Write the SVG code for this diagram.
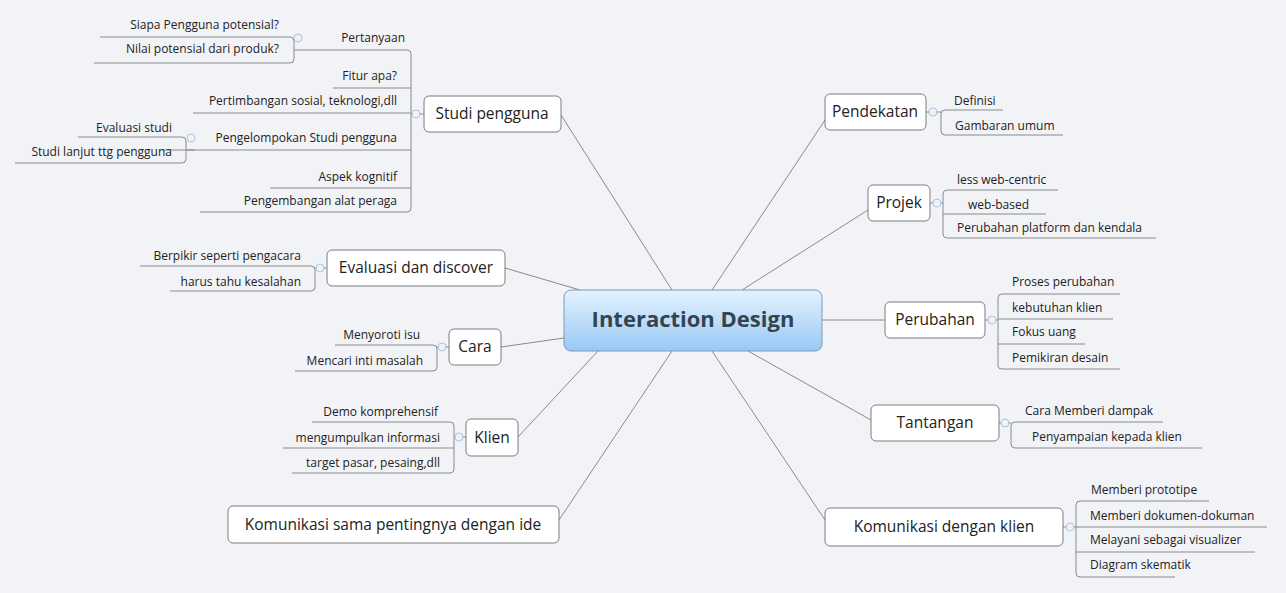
<svg xmlns="http://www.w3.org/2000/svg" width="1286" height="593" viewBox="0 0 1286 593">
<defs>
<linearGradient id="cg" x1="0" y1="0" x2="0" y2="1"><stop offset="0" stop-color="#e4f2fd"/><stop offset="1" stop-color="#99c9f5"/></linearGradient>
<style>
.n{fill:#fff;stroke:#7d7d7d;stroke-width:1}
.nt{font-family:"Open Sans","Liberation Sans",sans-serif;font-size:15.5px;fill:#222}
.lt{font-family:"Open Sans","Liberation Sans",sans-serif;font-size:12px;fill:#222}
.c{stroke:#8a8a8a;stroke-width:1;fill:none}
.u{stroke:#8a8a8a;stroke-width:1;fill:none}
.k{fill:#eef3fa;stroke:#a9c4e0;stroke-width:1}
</style>
</defs>
<rect width="1286" height="593" fill="#f2f3f7"/>
<g id="connectors">
<path class="c" d="M672 290L561 115M580 290L505 268M564 338L501 347M598 351L518 437M672 351L559 520M712 290L825 120M742 290L868 210M822 320H885M748 351L871 420M712 351L825 520"/>
<!-- Studi pengguna -->
<path class="u" d="M424 114H411M411 54V208M407 50Q411 50 411 54M407 212Q411 212 411 208M300 50H407M333 88H411M193 113H411M163 150H411M270 188H411M200 212H407"/>
<path class="u" d="M300 50H294M294 41V59M100 37H290Q294 37 294 41M94 63H290Q294 63 294 59"/>
<path class="u" d="M186 141V159M78 137H182Q186 137 186 141M15 163H182Q186 163 186 159M186 150H195"/>
<!-- Evaluasi -->
<path class="u" d="M327 268H315M315 270V287M140 266H311Q315 266 315 270M170 291H311Q315 291 315 287"/>
<path class="u" d="M449 347H437M437 349V367M335 345H433Q437 345 437 349M295 371H433Q437 371 437 367"/>
<path class="u" d="M466 437H454M454 426V469M312 422H450Q454 422 454 426M283 448H454M292 473H450Q454 473 454 469"/>
<!-- right -->
<path class="u" d="M926 112H941M941 114V131M1003 110H945Q941 110 941 114M1063 135H945Q941 135 941 131"/>
<path class="u" d="M930 203H943M943 194V234M1058 190H947Q943 190 943 194M1046 214H943M1156 238H947Q943 238 943 234"/>
<path class="u" d="M985 320H998M998 298V366M1120 294H1002Q998 294 998 298M1113 319H998M1085 344H998M1120 369H1002Q998 369 998 366"/>
<path class="u" d="M999 423H1011M1011 426V444M1163 422H1015Q1011 422 1011 426M1202 448H1015Q1011 448 1011 444"/>
<path class="u" d="M1063 527H1076M1076 505V573M1209 501H1080Q1076 501 1076 505M1267 527H1076M1255 552H1076M1175 577H1080Q1076 577 1076 573"/>
<g>
<circle class="k" cx="416" cy="114" r="4"/><circle class="k" cx="298" cy="38" r="4"/><circle class="k" cx="191" cy="138" r="4"/>
<circle class="k" cx="320" cy="268" r="4"/><circle class="k" cx="442" cy="347" r="4"/><circle class="k" cx="459" cy="437" r="4"/>
<circle class="k" cx="933" cy="112" r="4"/><circle class="k" cx="937" cy="203" r="4"/><circle class="k" cx="992" cy="320" r="4"/>
<circle class="k" cx="1005" cy="423" r="4"/><circle class="k" cx="1070" cy="527" r="4"/>
</g>
</g>
<g id="center"><rect x="564" y="290" width="258" height="61" rx="7" fill="url(#cg)" stroke="#7b9bbd"/><text x="693" y="327" text-anchor="middle" font-family="'Open Sans','Liberation Sans',sans-serif" font-weight="bold" font-size="22" fill="#34444f">Interaction Design</text></g>
<g id="n-studi"><rect class="n" x="424" y="96" width="137" height="36" rx="5"/><text class="nt" x="492" y="119" text-anchor="middle">Studi pengguna</text></g>
<g id="n-eval"><rect class="n" x="327" y="250" width="178" height="36" rx="5"/><text class="nt" x="416" y="273" text-anchor="middle">Evaluasi dan discover</text></g>
<g id="n-cara"><rect class="n" x="449" y="329" width="52" height="36" rx="5"/><text class="nt" x="475" y="352" text-anchor="middle">Cara</text></g>
<g id="n-klien"><rect class="n" x="466" y="419" width="52" height="37" rx="5"/><text class="nt" x="492" y="443" text-anchor="middle">Klien</text></g>
<g id="n-kom"><rect class="n" x="228" y="506" width="331" height="37" rx="5"/><text class="nt" x="393" y="530" text-anchor="middle">Komunikasi sama pentingnya dengan ide</text></g>
<g id="n-pend"><rect class="n" x="825" y="94" width="101" height="36" rx="5"/><text class="nt" x="875" y="117" text-anchor="middle">Pendekatan</text></g>
<g id="n-projek"><rect class="n" x="868" y="185" width="62" height="36" rx="5"/><text class="nt" x="899" y="208" text-anchor="middle">Projek</text></g>
<g id="n-perub"><rect class="n" x="885" y="302" width="100" height="36" rx="5"/><text class="nt" x="935" y="325" text-anchor="middle">Perubahan</text></g>
<g id="n-tant"><rect class="n" x="871" y="405" width="128" height="36" rx="5"/><text class="nt" x="935" y="428" text-anchor="middle">Tantangan</text></g>
<g id="n-komk"><rect class="n" x="825" y="508" width="238" height="38" rx="5"/><text class="nt" x="944" y="532" text-anchor="middle">Komunikasi dengan klien</text></g>
<g id="leaves" class="lt">
<text class="lt" x="405" y="42" text-anchor="end">Pertanyaan</text>
<text class="lt" x="279" y="29" text-anchor="end">Siapa Pengguna potensial?</text>
<text class="lt" x="279" y="53" text-anchor="end">Nilai potensial  dari produk?</text>
<text class="lt" x="397" y="80" text-anchor="end">Fitur apa?</text>
<text class="lt" x="397" y="105" text-anchor="end">Pertimbangan sosial, teknologi,dll</text>
<text class="lt" x="397" y="142" text-anchor="end">Pengelompokan Studi pengguna</text>
<text class="lt" x="172" y="132" text-anchor="end">Evaluasi studi</text>
<text class="lt" x="172" y="156" text-anchor="end">Studi lanjut ttg pengguna</text>
<text class="lt" x="397" y="181" text-anchor="end">Aspek kognitif</text>
<text class="lt" x="397" y="205" text-anchor="end">Pengembangan alat peraga</text>
<text class="lt" x="301" y="260" text-anchor="end">Berpikir seperti pengacara</text>
<text class="lt" x="301" y="286" text-anchor="end">harus tahu kesalahan</text>
<text class="lt" x="420" y="339" text-anchor="end">Menyoroti isu</text>
<text class="lt" x="423" y="365" text-anchor="end">Mencari inti masalah</text>
<text class="lt" x="438" y="416" text-anchor="end">Demo komprehensif</text>
<text class="lt" x="440" y="442" text-anchor="end">mengumpulkan informasi</text>
<text class="lt" x="440" y="467" text-anchor="end">target pasar, pesaing,dll</text>
<text class="lt" x="954" y="105">Definisi</text>
<text class="lt" x="955" y="130">Gambaran umum</text>
<text class="lt" x="957" y="184">less web-centric</text>
<text class="lt" x="968" y="209">web-based</text>
<text class="lt" x="957" y="232">Perubahan platform dan kendala</text>
<text class="lt" x="1012" y="286">Proses perubahan</text>
<text class="lt" x="1012" y="312">kebutuhan klien</text>
<text class="lt" x="1012" y="336">Fokus uang</text>
<text class="lt" x="1012" y="362">Pemikiran desain</text>
<text class="lt" x="1025" y="415">Cara Memberi dampak</text>
<text class="lt" x="1032" y="441">Penyampaian kepada klien</text>
<text class="lt" x="1091" y="494">Memberi prototipe</text>
<text class="lt" x="1090" y="520">Memberi dokumen-dokuman</text>
<text class="lt" x="1090" y="544">Melayani sebagai visualizer</text>
<text class="lt" x="1090" y="569">Diagram skematik</text>
</g>
</svg>
